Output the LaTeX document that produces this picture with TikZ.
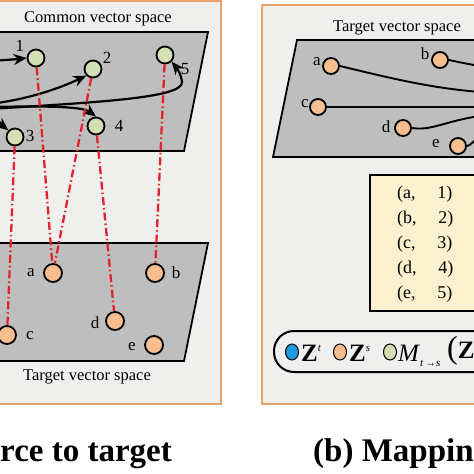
\documentclass[tikz,border=0pt]{standalone}
\usepackage{fontspec}
\setmainfont{Liberation Serif}
\usetikzlibrary{arrows.meta,shapes.geometric}
\definecolor{panelbg}{HTML}{EFEFEE}
\definecolor{panelborder}{HTML}{E8A36A}
\definecolor{planefill}{HTML}{BEBEBE}
\definecolor{greenc}{HTML}{D2E0B4}
\definecolor{orangec}{HTML}{F7BF8F}
\definecolor{redc}{HTML}{E3232B}
\definecolor{tablefill}{HTML}{FCF1CF}
\definecolor{bluec}{HTML}{1B9BDD}
\tikzset{
  panel/.style={draw=panelborder, line width=1.8pt, fill=panelbg},
  plane/.style={draw=black, line width=1.8pt, fill=planefill},
  gnode/.style={circle, draw=black, line width=1.8pt, fill=greenc, minimum size=17pt, inner sep=0pt},
  onode/.style={circle, draw=black, line width=1.8pt, fill=orangec, minimum size=17pt, inner sep=0pt},
  lnode/.style={ellipse, draw=black, line width=1pt, minimum width=13pt, minimum height=16pt, inner sep=0pt},
  lbl/.style={font=\fontsize{17}{17}\selectfont, inner sep=0pt},
  ttl/.style={font=\fontsize{16.5}{16.5}\selectfont, inner sep=0pt},
  arr/.style={draw=black, line width=2.2pt, -{Stealth[length=13pt,width=11pt]}},
  mapline/.style={draw=redc, line width=2.3pt, dash pattern=on 8pt off 3pt on 1.5pt off 3pt},
  link/.style={draw=black, line width=1.9pt},
  tabtext/.style={font=\fontsize{18}{18}\selectfont, inner sep=0pt, anchor=base west},
  legtext/.style={inner sep=0pt, anchor=west},
  captext/.style={font=\fontsize{33}{33}\selectfont\bfseries, inner sep=0pt, anchor=base west}
}
\begin{document}
\begin{tikzpicture}[x=1pt,y=-1pt]
\useasboundingbox (0,0) rectangle (474,474);
\clip (0,0) rectangle (474,474);
\fill[white] (0,0) rectangle (474,474);

% ---------- left panel ----------
\draw[panel] (-10,1) rectangle (221,404);
\node[ttl] (ttlcommon) at (98,19) {Common vector space};
\draw[plane] (-20,32) -- (208,32) -- (184,151) -- (-44,151) -- cycle;
\draw[plane] (-20,243) -- (208,243) -- (184,361) -- (-44,361) -- cycle;
\node[ttl] (ttltarget1) at (87,377) {Target vector space};

% green nodes
\node[gnode] (g1) at (36,58) {};
\node[gnode] (g2) at (93,69) {};
\node[gnode] (g3) at (15,137) {};
\node[gnode] (g4) at (96,126) {};
\node[gnode] (g5) at (165,55) {};
\node[lbl] (l1) at (20,46) {1};
\node[lbl] (l2) at (107,58) {2};
\node[lbl] (l3) at (30,136) {3};
\node[lbl] (l4) at (119,126) {4};
\node[lbl] (l5) at (185,69) {5};

% orange nodes (target space, left panel)
\node[onode, minimum size=18pt] (ta) at (53,273) {};
\node[onode, minimum size=18pt] (tb) at (155,273) {};
\node[onode, minimum size=18pt] (tc) at (7,335) {};
\node[onode, minimum size=18pt] (td) at (115,321) {};
\node[onode, minimum size=18pt] (te) at (154,345) {};
\node[lbl] (la) at (31,273) {a};
\node[lbl] (lb) at (176,273) {b};
\node[lbl] (lc) at (30,336) {c};
\node[lbl] (ld) at (95,323) {d};
\node[lbl] (le) at (132,347) {e};

% arrows in common space
\coordinate (s1) at (-10,61);
\coordinate (s2) at (-10,104);
\coordinate (s3) at (-10,118);
\coordinate (s4) at (-10,107);
\coordinate (s5) at (-10,109);
\draw[arr] (s1) .. controls (8,60) and (18,59) .. (g1.west);
\draw[arr] (s2) .. controls (30,99) and (60,88) .. (g2.south west);
\draw[arr] (s4) .. controls (40,106) and (82,106) .. (g4.north);
\draw[arr] (s5) .. controls (100,102) and (183,98) .. (182,82) .. controls (181,73) and (176,67) .. (g5.south east);
\draw[arr] (s3) .. controls (0,120) and (3,126) .. (g3.north west);

% mapping lines
\draw[mapline] (g1) -- (ta);
\draw[mapline] (g2) -- (ta);
\draw[mapline] (g3) -- (tc);
\draw[mapline] (g4) -- (td);
\draw[mapline] (g5) -- (tb);

% ---------- right panel ----------
\draw[panel] (262,5) rectangle (490,404);
\node[ttl] (ttltarget2) at (397,28) {Target vector space};
\draw[plane] (297,40) -- (520,40) -- (500,157) -- (273,157) -- cycle;

\node[onode, minimum size=16pt] (ra) at (331,66) {};
\node[onode, minimum size=16pt] (rb) at (440,60) {};
\node[onode, minimum size=16pt] (rc) at (318,107) {};
\node[onode, minimum size=16pt] (rd) at (403,128) {};
\node[onode, minimum size=16pt] (re) at (458,146) {};
\node[lbl] (rla) at (317,62) {a};
\node[lbl] (rlb) at (425,54) {b};
\node[lbl] (rlc) at (305,104) {c};
\node[lbl] (rld) at (386,127) {d};
\node[lbl] (rle) at (436,144) {e};

\coordinate (ea) at (480,92);
\coordinate (eb) at (480,66);
\coordinate (ec) at (480,107);
\coordinate (ed) at (480,116);
\coordinate (ee) at (480,137);
\draw[link] (ra.east) .. controls (390,78) and (430,88) .. (ea);
\draw[link] (rb.east) .. controls (458,62) and (468,64) .. (eb);
\draw[link] (rc.east) -- (ec);
\draw[link] (rd.east) .. controls (432,131) and (445,121) .. (ed);
\draw[link] (re.east) .. controls (470,146) and (473,141) .. (ee);

% table
\draw[line width=1.8pt, fill=tablefill] (370,175) rectangle (500,311);
\node[tabtext] (t1) at (397,198) {(a,\hspace{1.2em}1)};
\node[tabtext] (t2) at (397,223) {(b,\hspace{1.2em}2)};
\node[tabtext] (t3) at (397,248) {(c,\hspace{1.2em}3)};
\node[tabtext] (t4) at (397,273) {(d,\hspace{1.2em}4)};
\node[tabtext] (t5) at (397,298) {(e,\hspace{1.2em}5)};

% legend
\draw[line width=2pt, rounded corners=20pt, fill=panelbg] (274,331) rectangle (540,372);
\node[lnode, fill=bluec] (lg1) at (292,352) {};
\node[lnode, fill=orangec] (lg2) at (340,352) {};
\node[lnode, fill=greenc] (lg3) at (390,352) {};
\node[legtext] (lz1) at (301,353) {{\fontsize{25}{25}\selectfont\bfseries Z}\raisebox{10pt}{\fontsize{11}{11}\selectfont\itshape t}};
\node[legtext] (lz2) at (349,353) {{\fontsize{25}{25}\selectfont\bfseries Z}\raisebox{10pt}{\fontsize{11}{11}\selectfont\itshape s}};
\node[legtext] (lzm) at (398,353) {\fontsize{25}{25}\selectfont\itshape M};
\node[legtext] (lzsub) at (420,363) {\fontsize{11}{11}\selectfont\itshape t\,\upshape→\itshape s};
\node[legtext] (lzz) at (447,351) {{\fontsize{32}{32}\selectfont(}{\fontsize{25}{25}\selectfont\bfseries Z}};

% captions
\node[captext] (capa) at (0,461) {rce to target};
\node[captext] (capb) at (313,461) {(b) Mappin};
\end{tikzpicture}
\end{document}
